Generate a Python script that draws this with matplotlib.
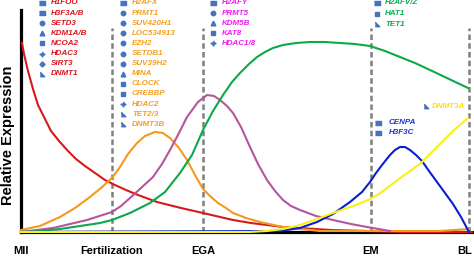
import matplotlib
matplotlib.use("Agg")
import matplotlib.pyplot as plt

# stage positions (x) and labels
stage_x = [0, 91, 182, 350, 448]
stage_labels = ["MII", "Fertilization", "EGA", "EM", "BL"]

# expression curves (x, relative expression)
red_x = [1, 3, 7, 12, 17, 23, 30, 38, 47, 55, 64, 74, 84, 94, 105, 117, 136, 160,
         182, 199, 212, 230, 246, 262, 279, 310, 346, 379, 451]
red_y = [189, 178, 161, 143, 127, 115, 101, 91, 81, 73, 66, 59, 52, 47, 42, 37, 30, 24,
         19, 15, 12, 9, 7, 5, 4, 2, 1, 0, 0]

orange_x = [0, 19, 39, 54, 69, 80, 91, 99, 107, 116, 124, 134, 142, 149, 158, 166, 174,
            182, 190, 197, 205, 212, 225, 239, 262, 280, 299, 359, 419, 448]
orange_y = [2, 6, 15, 24, 35, 44, 54, 65, 78, 89, 96, 100, 99, 94, 84, 72, 57,
            43, 35, 29, 24, 19, 14, 10, 5, 3, 1, 1, 1, 3]

magenta_x = [0, 32, 66, 91, 100, 109, 120, 132, 141, 149, 158, 166, 177, 186, 193, 199,
             206, 212, 220, 229, 237, 246, 254, 262, 270, 279, 295, 312, 330, 346, 369]
magenta_y = [0, 4, 12, 20, 26, 34, 44, 55, 68, 82, 99, 115, 130, 137, 136, 132,
             126, 119, 105, 85, 68, 52, 41, 32, 26, 22, 16, 12, 8, 5, 1]

green_x = [0, 19, 39, 59, 79, 91, 109, 129, 144, 159, 171, 182, 192, 202, 211, 219, 228,
           236, 244, 252, 262, 275, 289, 304, 319, 334, 349, 364, 379, 394, 409, 428, 447]
green_y = [0, 1, 3, 6, 9, 12, 19, 29, 40, 59, 77, 102, 121, 137, 150, 159, 168,
           175, 180, 184, 187, 189, 190, 190, 189, 188, 186, 181, 175, 169, 162, 153, 144]

blue_x = [0, 259, 279, 296, 312, 329, 341, 349, 355, 361, 369, 374, 379, 384, 389, 395,
          401, 408, 416, 424, 432, 440, 448]
blue_y = [0, 1, 4, 10, 18, 30, 40, 50, 59, 67, 77, 82, 85, 85, 82, 77,
          71, 61, 50, 39, 28, 15, 0]

yellow_x = [0, 229, 246, 262, 279, 296, 312, 329, 340, 349, 358, 366, 374, 382, 392, 401,
            412, 422, 432, 447]
yellow_y = [0, 0, 1, 3, 7, 13, 19, 25, 29, 33, 38, 44, 50, 56, 63, 70,
            81, 91, 101, 114]

# gene annotation lists and their marker kinds
red_genes = ["H1FOO", "H3F3A/B", "SETD3", "KDM1A/B", "NCOA2", "HDAC3", "SIRT3", "DNMT1"]
red_marks = ["bigsq", "rect", "o", "^", "s", "star", "D", "corner"]

orange_genes = ["H2AFX", "PRMT1", "SUV420H1", "LOC534913", "EZH2", "SETDB1", "SUV39H2",
                "MINA", "CLOCK", "CREBBP", "HDAC2", "TET2/3", "DNMT3B"]
orange_marks = ["bigsq", "o", "o", "o", "o", "o", "o", "^", "s", "s", "star", "corner", "corner"]

magenta_genes = ["H2AFY", "PRMT5", "KDM5B", "KAT8", "HDAC1/8"]
magenta_marks = ["bigsq", "o", "^", "s", "star"]

green_genes = ["H2AFV/Z", "HAT1", "TET1"]
green_marks = ["rect", "s", "corner"]

blue_genes = ["CENPA", "H3F3C"]
blue_marks = ["rect", "rect"]

yellow_genes = ["DNMT3A"]
yellow_marks = ["corner"]

MARKER_BLUE = "#4472C4"
shapes = {
    "bigsq": ([(-1.2, -1), (1.2, -1), (1.2, 1), (-1.2, 1)], 4.2),
    "rect": ([(-1.5, -0.8), (1.5, -0.8), (1.5, 0.8), (-1.5, 0.8)], 4.2),
    "s": ("s", 3.0),
    "o": ("o", 3.2),
    "^": ("^", 3.4),
    "D": ("D", 2.6),
    "star": ([(0, 1), (0.35, 0.35), (1, 0), (0.35, -0.35), (0, -1),
              (-0.35, -0.35), (-1, 0), (-0.35, 0.35)], 3.6),
    "corner": ([(-1, -1), (1, -1), (-1, 1)], 3.2),
}


def label_group(ax, genes, marks, mx, tx, y0, step, color):
    for i, (g, m) in enumerate(zip(genes, marks)):
        y = y0 - i * step
        shape, size = shapes[m]
        ax.plot([mx], [y], marker=shape, ms=size, color=MARKER_BLUE,
                mec=MARKER_BLUE, ls="none", clip_on=False)
        ax.text(tx, y, g, color=color, fontsize=5.8, fontweight="bold",
                fontstyle="italic", family="Liberation Sans",
                va="center", ha="left", clip_on=False)


def main():
    fig = plt.figure(figsize=(4.74, 2.59), dpi=100)
    ax = fig.add_axes([21 / 474, 27 / 259, 451 / 474, 232 / 259])
    ax.set_xlim(0, 451)
    ax.set_ylim(0, 232)

    for sx in stage_x[1:]:
        ax.plot([sx, sx], [0, 204], color="#7F7F7F", lw=1.8,
                ls=(0, (2.2, 1.3)), zorder=1, clip_on=False)

    lw = 1.5
    ax.plot(red_x, red_y, color="#D7191C", lw=lw, zorder=3, clip_on=False)
    ax.plot(orange_x, orange_y, color="#F39A1E", lw=lw, zorder=3, clip_on=False)
    ax.plot(magenta_x, magenta_y, color="#B5559E", lw=lw, zorder=3, clip_on=False)
    ax.plot(green_x, green_y, color="#0AAA4A", lw=lw, zorder=3, clip_on=False)
    ax.plot(blue_x, blue_y, color="#0A1ED2", lw=lw, zorder=3, clip_on=False)
    ax.plot(yellow_x, yellow_y, color="#F7F215", lw=lw, zorder=4, clip_on=False)

    for side in ["top", "right"]:
        ax.spines[side].set_visible(False)
    ax.spines["left"].set_linewidth(2.3)
    ax.spines["bottom"].set_linewidth(2.3)
    ax.spines["left"].set_bounds(0, 222)
    ax.set_yticks([])
    ax.set_xticks([])

    # stage names under the axis; the last one is kept inside the figure
    for i, (sx, name) in enumerate(zip(stage_x, stage_labels)):
        last = i == len(stage_x) - 1
        ax.text(451 if last else sx, -19, name, fontsize=8, fontweight="bold",
                family="Liberation Sans", ha="right" if last else "center",
                va="center", clip_on=False)

    fig.text(8 / 474, 1 - 135 / 259, "Relative Expression", rotation=90,
             fontsize=10.5, fontweight="bold", family="Liberation Sans",
             ha="center", va="center")

    label_group(ax, red_genes, red_marks, 20.5, 30, 229, 10.1, "#E0141E")
    label_group(ax, orange_genes, orange_marks, 102, 111, 229, 10.1, "#F5A020")
    label_group(ax, magenta_genes, magenta_marks, 192, 201, 229, 10.1, "#F01EF0")
    label_group(ax, green_genes, green_marks, 356, 364, 229, 10.5, "#00B050")
    label_group(ax, blue_genes, blue_marks, 357, 368, 109, 10, "#2233CC")
    label_group(ax, yellow_genes, yellow_marks, 405, 411, 126, 10, "#FFE000")

    fig.savefig("out.png", dpi=100)


if __name__ == "__main__":
    main()
